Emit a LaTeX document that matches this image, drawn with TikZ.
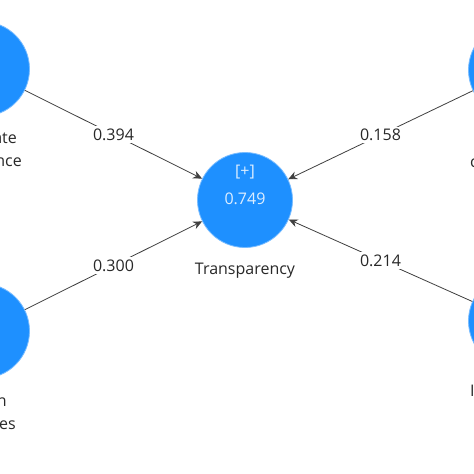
\documentclass[tikz,border=0pt]{standalone}
\usepackage{fontspec}
\setmainfont{Open Sans}
\usetikzlibrary{arrows.meta}
\definecolor{lvblue}{RGB}{30,144,255}
\definecolor{lvtext}{RGB}{40,40,40}

\tikzset{
  latent/.style={circle,fill=lvblue,draw=lvblue!60,line width=0.8pt,minimum size=95pt,inner sep=0pt},
  coef/.style={fill=white,inner sep=2.5pt,text=lvtext,font=\fontsize{16}{18}\selectfont},
  lbl/.style={inner sep=0pt,text=lvtext,font=\fontsize{16}{18}\selectfont},
  inner/.style={inner sep=0pt,text=white!85!lvblue,font=\fontsize{16}{18}\selectfont},
  link/.style={draw=black!75,line width=0.8pt,-{Stealth[length=9pt,width=8pt]}}
}

\begin{document}
\begin{tikzpicture}[x=1pt,y=-1pt]
\useasboundingbox (0,0) rectangle (474,474);
\clip (0,0) rectangle (474,474);
\fill[white] (0,0) rectangle (474,474);
% constructs
\node[latent] (trans) at (245,200) {};
\node[latent] (gov) at (-18,69) {};
\node[latent] (left2) at (-18,331) {};
\node[latent] (right1) at (516,70) {};
\node[latent] (right2) at (516,321) {};
% text in the target construct
\node[inner] (rsq) at (245,172) {[+]};
\node[inner] (rval) at (245,199) {0.749};
% construct labels
\node[lbl] (translbl) at (245,271) {Transparency};
\node[lbl,anchor=east] (govlbla) at (17,138) {ate};
\node[lbl,anchor=east] (govlblb) at (22,162) {nce};
\node[lbl,anchor=east] (left2lbla) at (7,402) {n};
\node[lbl,anchor=east] (left2lblb) at (16,425) {es};
\node[lbl,anchor=west] (right1lbl) at (470,163) {c};
\node[lbl,anchor=west] (right2lbl) at (470,391) {I};
% paths
\draw[link] (gov) -- node[coef]{0.394} (trans);
\draw[link] (left2) -- node[coef]{0.300} (trans);
\draw[link] (right1) -- node[coef]{0.158} (trans);
\draw[link] (right2) -- node[coef]{0.214} (trans);
\end{tikzpicture}
\end{document}
